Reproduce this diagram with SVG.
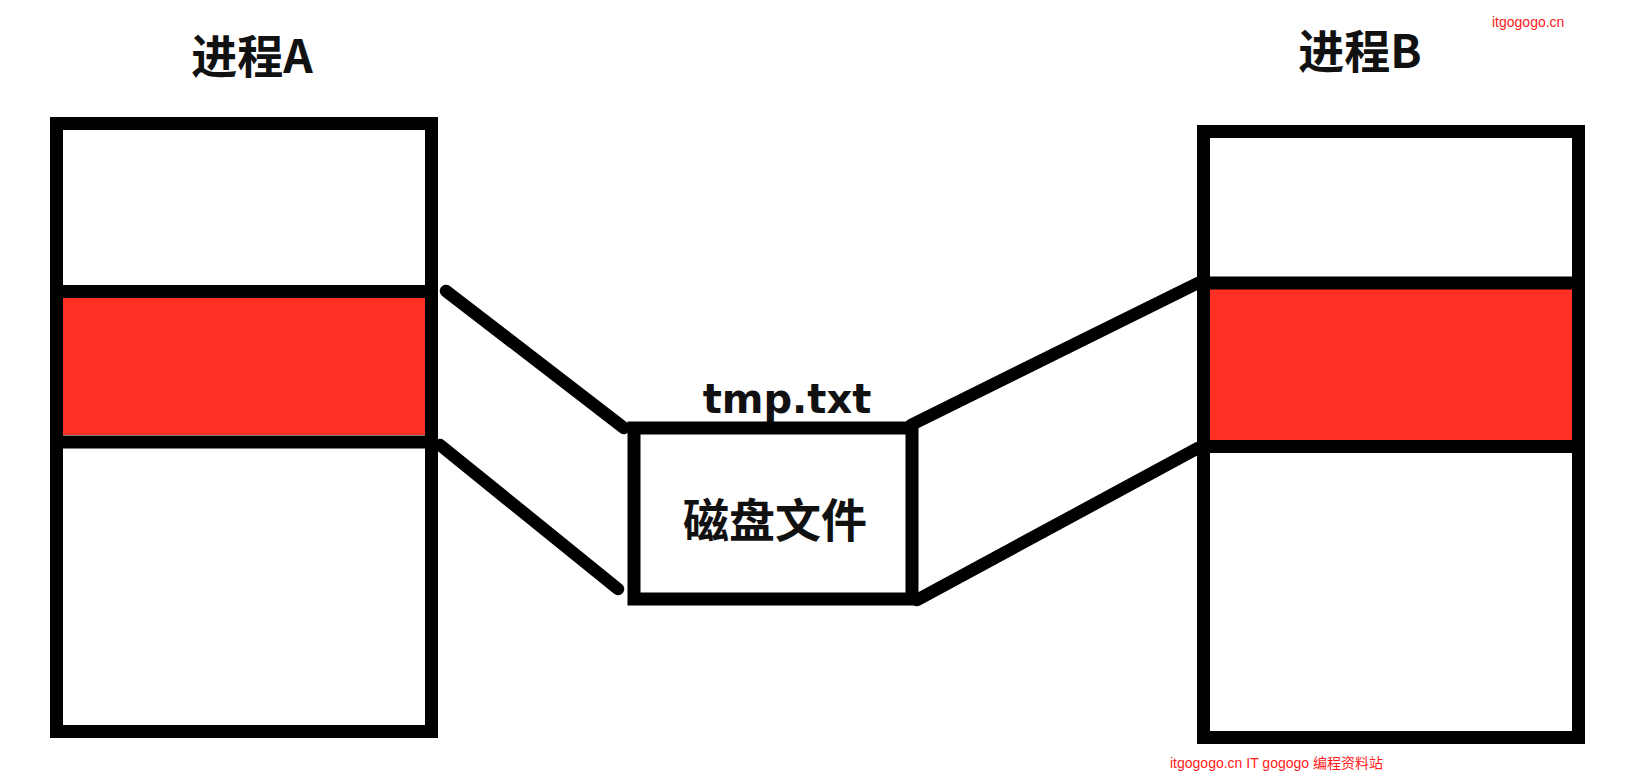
<svg xmlns="http://www.w3.org/2000/svg" width="1643" height="780" viewBox="0 0 1643 780">
<style>
.frame{fill:none;stroke:#000;stroke-width:13}
.div{stroke:#000;stroke-width:13}
.mem{fill:#ff3024}
.title{font-family:"Noto Sans CJK SC","Microsoft YaHei",sans-serif;font-weight:bold;font-size:46px;fill:#111;text-anchor:middle}
.link{stroke:#000;stroke-width:12.5;stroke-linecap:round;fill:none}
.wm{font-family:"Liberation Sans","Noto Sans CJK SC",sans-serif;font-size:14px;fill:#ff1a1a}
</style>
<rect width="1643" height="780" fill="#fff"/>
<g id="processA">
  <text class="title" x="252" y="73">进程A</text>
  <rect class="mem" x="63" y="298" width="362" height="137"/>
  <rect class="frame" x="56.5" y="123.5" width="375" height="608"/>
  <line class="div" x1="50" y1="291.5" x2="438" y2="291.5"/>
  <line class="div" x1="50" y1="442" x2="438" y2="442"/>
</g>
<g id="processB">
  <text class="title" x="1360" y="68">进程B</text>
  <rect class="mem" x="1210" y="289" width="363" height="151"/>
  <rect class="frame" x="1203.5" y="131.5" width="375" height="606"/>
  <line class="div" x1="1197" y1="283" x2="1585" y2="283"/>
  <line class="div" x1="1197" y1="446.5" x2="1585" y2="446.5"/>
</g>
<g id="diskFile">
  <text x="787" y="413" font-family="DejaVu Sans, sans-serif" font-weight="bold" font-size="40" text-anchor="middle" fill="#111">tmp.txt</text>
  <rect class="frame" x="634" y="428" width="278" height="171"/>
  <text x="775" y="537" font-family="Noto Sans CJK SC, sans-serif" font-weight="bold" font-size="46" text-anchor="middle" fill="#111">磁盘文件</text>
</g>
<g id="connectors">
  <line class="link" x1="446" y1="291" x2="624" y2="428"/>
  <line class="link" x1="440" y1="445" x2="618" y2="589"/>
  <line class="link" x1="911" y1="425" x2="1198" y2="283"/>
  <line class="link" x1="917" y1="600" x2="1198" y2="448"/>
</g>
<text class="wm" x="1492" y="27">itgogogo.cn</text>
<text class="wm" x="1170" y="768">itgogogo.cn IT gogogo 编程资料站</text>
</svg>
